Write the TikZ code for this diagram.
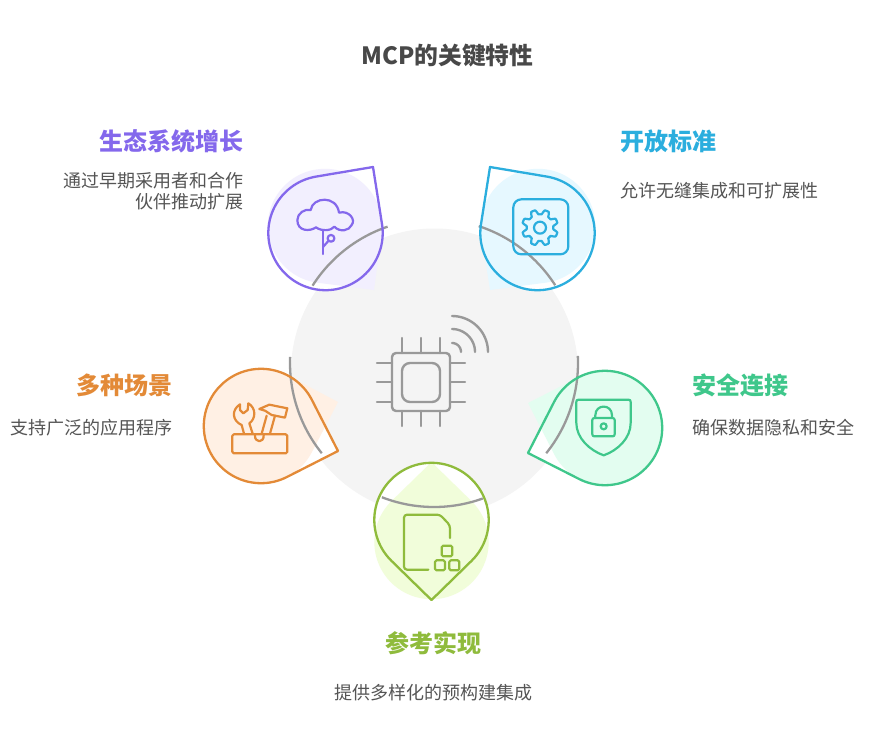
\documentclass[tikz,border=0pt]{standalone}
\usepackage{fontspec}
\setmainfont{Noto Sans CJK SC}
\definecolor{cpurple}{HTML}{8468EC}
\definecolor{fpurple}{HTML}{F2EFFE}
\definecolor{ccyan}{HTML}{2BAEDE}
\definecolor{fcyan}{HTML}{E6F8FF}
\definecolor{cgreen}{HTML}{3FC78B}
\definecolor{fgreen}{HTML}{E3FDF0}
\definecolor{clime}{HTML}{8FBB3C}
\definecolor{flime}{HTML}{F1FDDA}
\definecolor{corange}{HTML}{E38A37}
\definecolor{forange}{HTML}{FFF0E4}
\definecolor{cgray}{HTML}{999999}
\definecolor{fgray}{HTML}{F4F4F4}
\definecolor{ctext}{HTML}{555555}
\newcommand\mydrop[5][]{%
  \pgfmathsetmacro\myang{atan2(#5-#3,#4-#2)}%
  \pgfmathsetmacro\myhalf{acos(57.2/veclen(#4-#2,#5-#3))}%
  \pgfmathsetmacro\mys{\myang+\myhalf}%
  \pgfmathsetmacro\mye{\myang+360-\myhalf}%
  \path[#1] plot[domain=\mys:\mye,samples=90] ({#2+57.2*cos(\x)},{#3+57.2*sin(\x)}) -- (#4,#5) -- cycle;%
}
\newcommand\myarc[2]{%
  \draw[bigarc] plot[domain=#1:#2,samples=40] ({434+144*cos(\x)},{363+144*sin(\x)});%
}
\tikzset{
  outline/.style={draw=#1,line width=2.3pt,line join=round,fill=none},
  whitedrop/.style={fill=white},
  bigarc/.style={draw=cgray,line width=2.3pt,line cap=butt},
  icon/.style={draw=#1,line width=2.2pt,line cap=round,line join=round,fill=none},
  headtext/.style={inner sep=0pt,font=\fontsize{24}{24}\selectfont\bfseries,text=#1},
  desc/.style={inner sep=0pt,text=ctext,font=\fontsize{18}{20.5}\selectfont},
}
\begin{document}
\begin{tikzpicture}[x=1pt,y=-1pt]
\useasboundingbox (0,0) rectangle (875,728);
\fill[white] (0,0) rectangle (875,728);
\fill[fgray] (434.5,372) circle[radius=143.5pt];
% white-backed drops
\mydrop[whitedrop]{325.5}{233}{373}{167}
\mydrop[whitedrop]{537.5}{233}{490}{167}
\mydrop[whitedrop]{605}{428}{528}{453}
\mydrop[whitedrop]{261}{426}{338}{451}
\mydrop[whitedrop]{431.5}{520}{431.5}{600}
% light shapes
\mydrop[fill=fpurple]{325}{226}{374}{290}
\mydrop[fill=fcyan]{538}{226}{490}{290}
\mydrop[fill=fgreen]{605}{428}{528}{403}
\mydrop[fill=forange]{261}{426}{338}{402}
\mydrop[fill=flime]{431.5}{542}{431.5}{462}
% grey arcs
\myarc{212.5}{251.2}
\myarc{-71.9}{-32.7}
\myarc{-2.8}{38.8}
\myarc{141.2}{182.4}
\myarc{70.2}{111.2}
% outlines
\mydrop[outline=cpurple]{325.5}{233}{373}{167}
\mydrop[outline=ccyan]{537.5}{233}{490}{167}
\mydrop[outline=cgreen]{605}{428}{528}{453}
\mydrop[outline=corange]{261}{426}{338}{451}
\mydrop[outline=clime]{431.5}{520}{431.5}{600}
% central chip
\begin{scope}[every path/.append style={icon=cgray,line width=2.4pt}]
\draw[rounded corners=4pt] (392,353) rectangle (450,411);
\draw[rounded corners=8pt] (402,363) rectangle (440,402);
\foreach \p in {402,421,440}{
  \draw (\p,338) -- (\p,353);
  \draw (\p,411) -- (\p,426);
}
\foreach \p in {363,382,402}{
  \draw (377,\p) -- (392,\p);
  \draw (450,\p) -- (465,\p);
}
\foreach \r in {9,23,36}{
  \draw plot[domain=-90:0,samples=20] ({452+\r*cos(\x)},{352+\r*sin(\x)});
}
\end{scope}
% cloud tree
\begin{scope}[shift={(290,190)},x=0.3333pt,y=-0.3333pt]
\draw[icon=cpurple] (62,60) .. controls (68,20) and (140,15) .. (147,68)
  .. controls (178,60) and (198,90) .. (185,105)
  .. controls (178,122) and (150,128) .. (133,110)
  .. controls (125,122) and (95,125) .. (78,112)
  .. controls (60,125) and (22,125) .. (22,90)
  .. controls (22,70) and (45,55) .. (62,60) -- cycle;
\draw[icon=cpurple] (100,120) -- (100,192);
\draw[icon=cpurple] (100,170) -- (115,153);
\draw[icon=cpurple] (123,145) circle[radius=3.4pt];
\end{scope}
% gear
\begin{scope}[shift={(505,192)},x=0.3333pt,y=-0.3333pt]
\draw[icon=ccyan,rounded corners=8pt] (25,22) rectangle (190,187);
\draw[icon=ccyan] plot[domain=0:360,samples=145] ({105+(47-7*max(min(1.8*cos(8*\x),1),-1))*cos(\x)},{107+(47-7*max(min(1.8*cos(8*\x),1),-1))*sin(\x)}) -- cycle;
\draw[icon=ccyan] (105,107) circle[radius=6pt];
\end{scope}
% shield
\begin{scope}[shift={(568,393)},x=0.3333pt,y=-0.3333pt]
\draw[icon=cgreen] (32,20) -- (181,20) .. controls (186,20) and (188,22) .. (188,27) -- (188,90)
  .. controls (188,135) and (150,172) .. (107,187)
  .. controls (65,172) and (25,135) .. (25,90) -- (25,27) .. controls (25,22) and (27,20) .. (32,20) -- cycle;
\draw[icon=cgreen,rounded corners=2pt] (73,75) rectangle (140,130);
\draw[icon=cgreen] (82,75) -- (82,67) .. controls (82,32) and (132,32) .. (132,67) -- (132,75);
\draw[icon=cgreen] (107,100) circle[radius=3pt];
\end{scope}
% toolbox
\begin{scope}[shift={(225,395)},x=0.3333pt,y=-0.3333pt]
\draw[icon=corange,rounded corners=1.5pt] (22,118) rectangle (187,175);
\draw[icon=corange] (90,120) .. controls (88,145) and (118,145) .. (116,120);
\draw[icon=corange] (57,116) -- (50,90) .. controls (22,78) and (18,45) .. (45,28) -- (45,45) -- (55,55) -- (68,45) -- (70,25)
  .. controls (95,40) and (92,72) .. (73,85) -- (83,116);
\draw[icon=corange] (125,62) -- (110,116);
\draw[icon=corange] (150,62) -- (135,116);
\draw[icon=corange] (103,42) -- (133,29) -- (187,40) -- (180,68) -- (140,60) -- (120,47) -- cycle;
\end{scope}
% document
\begin{scope}[shift={(395,508)},x=0.3333pt,y=-0.3333pt]
\draw[icon=clime,rounded corners=3pt] (100,185) -- (27,185) -- (27,20) -- (135,20) -- (165,52) -- (165,90);
\draw[icon=clime,rounded corners=1.5pt] (140,113) rectangle (172,145);
\draw[icon=clime,rounded corners=1.5pt] (120,157) rectangle (150,187);
\draw[icon=clime,rounded corners=1.5pt] (163,157) rectangle (193,187);
\end{scope}
% texts
\node[inner sep=0pt,text=ctext!85!black,font=\fontsize{23.8}{24}\selectfont\bfseries] (title) at (447.5,56) {MCP的关键特性};
\node[headtext=cpurple,anchor=east] (h1) at (244,141.5) {生态系统增长};
\node[desc,anchor=east,align=right] (d1) at (244,191) {通过早期采用者和合作\\伙伴推动扩展};
\node[headtext=ccyan,anchor=west] (h2) at (620,141.5) {开放标准};
\node[desc,anchor=west] (d2) at (620,191) {允许无缝集成和可扩展性};
\node[headtext=cgreen,anchor=west] (h3) at (692,385) {安全连接};
\node[desc,anchor=west] (d3) at (692,427.5) {确保数据隐私和安全};
\node[headtext=corange,anchor=east] (h4) at (173,385) {多种场景};
\node[desc,anchor=east] (d4) at (173,427.5) {支持广泛的应用程序};
\node[headtext=clime] (h5) at (433,643) {参考实现};
\node[desc] (d5) at (433,692.5) {提供多样化的预构建集成};
\end{tikzpicture}
\end{document}
